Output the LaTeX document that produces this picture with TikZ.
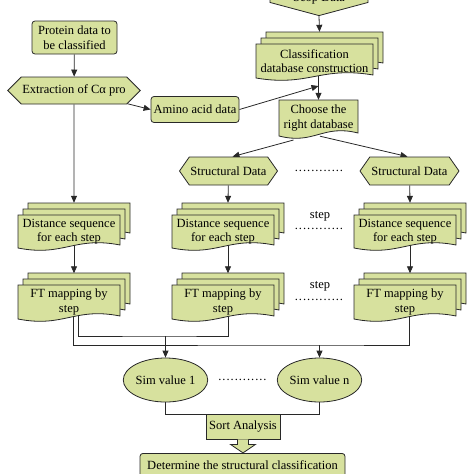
\documentclass[tikz,border=0pt]{standalone}
\usepackage{fontspec}
\setmainfont{Liberation Serif}
\usetikzlibrary{shapes.geometric,shapes.symbols,arrows.meta}
\definecolor{boxfill}{RGB}{215,225,158}
\definecolor{edge}{RGB}{40,40,40}
\pgfdeclarelayer{bg}
\pgfsetlayers{bg,main}
\tikzset{x=1pt,y=-1pt,
  every node/.style={font=\fontsize{12.5}{14.5}\selectfont,align=center},
  base/.style={draw=edge,fill=boxfill,line width=0.8pt},
  roundbox/.style={base,rectangle,rounded corners=3pt,inner sep=1pt},
  hexbox/.style={base,signal,signal to=west and east,inner sep=1pt},
  docnode/.style={inner sep=0pt,minimum width=102pt,minimum height=33pt},
  plain/.style={inner sep=0pt},
  link/.style={draw=edge,line width=0.8pt},
  flow/.style={link,-{Triangle[length=7pt,width=6pt]}}}
% one page with a wavy bottom: x, y, width, height
\newcommand{\docpage}[4]{%
  \filldraw[base] (#1,#2) -- ++(#3,0) -- ++(0,#4-3)
    .. controls +(-0.45*#3,-9) and +(0.45*#3,9) .. (#1,#2+#4) -- cycle;}
% three pages stacked
\newcommand{\docstack}[4]{%
  \foreach \k in {2,1,0} {\docpage{#1+5*\k}{#2-6*\k}{#3}{#4}}}
\newcommand{\dotrow}{\foreach \i in {1,...,12}{\makebox[4.1pt]{.}}}

\begin{document}
\begin{tikzpicture}
\useasboundingbox (0,0) rectangle (474,474);
% left column
\node[roundbox,minimum width=85pt,minimum height=33pt] (prot) at (74.5,37.5) {Protein data to\\be classified};
\node[hexbox,signal pointer angle=90,minimum width=126pt,minimum height=27pt] (extr) at (74,90.5) {Extraction of Cα pro};
\node[roundbox,minimum width=88pt,minimum height=26pt] (amino) at (195,109.5) {Amino acid data};
% database side
\node[base,signal,signal to=south,signal pointer angle=150,minimum width=98pt,minimum height=24pt,anchor=south] (scop) at (319,16) {\smash{\raisebox{-7pt}{Scop Data}}};
\docstack{256}{44}{117}{34}
\node[docnode,minimum width=117pt,minimum height=34pt] (clsdb) at (314.5,61) {Classification\\database construction};
\docpage{279}{100}{79}{36}
\node[docnode,minimum width=79pt,minimum height=36pt] (choose) at (318.5,118) {Choose the\\right database};
\node[hexbox,signal pointer angle=110,minimum width=98pt,minimum height=28pt] (sd1) at (228.5,171) {Structural Data};
\node[hexbox,signal pointer angle=110,minimum width=99pt,minimum height=28pt] (sd2) at (409.5,171) {Structural Data};
\node[plain] (dots1) at (319,171) {\dotrow};
% distance sequences
\docstack{18}{215}{102}{33}
\node[docnode] (dist1) at (69,231.5) {Distance sequence\\for each step};
\docstack{172}{215}{102}{33}
\node[docnode] (dist2) at (223,231.5) {Distance sequence\\for each step};
\docstack{354}{215}{102}{33}
\node[docnode] (dist3) at (405,231.5) {Distance sequence\\for each step};
\node[plain] (step1) at (320,216) {step};
\node[plain] (dots2) at (319,229) {\dotrow};
% FT mapping
\docstack{18}{285}{102}{34}
\node[docnode] (ft1) at (69,302) {FT mapping by\\step};
\docstack{172}{285}{102}{34}
\node[docnode] (ft2) at (223,302) {FT mapping by\\step};
\docstack{354}{285}{102}{34}
\node[docnode] (ft3) at (405,302) {FT mapping by\\step};
\node[plain] (step2) at (320,286.5) {step};
\node[plain] (dots3) at (319,300) {\dotrow};
% similarity and result
\node[base,ellipse,minimum width=77pt,minimum height=44pt,inner sep=0pt] (sim1) at (165.5,380) {Sim value 1};
\node[base,ellipse,minimum width=79pt,minimum height=44pt,inner sep=0pt] (simn) at (319.5,380) {Sim value n};
\node[plain] (dots4) at (242.5,380) {\dotrow};
\node[base,rectangle,minimum width=74pt,minimum height=25pt,inner sep=1pt] (sort) at (243,426.5) {Sort Analysis};
\node[roundbox,minimum width=205pt,minimum height=24pt,anchor=north] (det) at (242.5,453) {Determine the structural classification};
\filldraw[base] (sort.south) ++(-5.5,0) -- ++(0,5) -- ++(-7,0) -- ++(12.5,8.5) -- ++(12.5,-8.5) -- ++(-7,0) -- ++(0,-5);
\coordinate (join) at (318.5,86);
\coordinate (bus1) at (165.5,336);
\coordinate (bus2) at (319.5,345);
\begin{pgfonlayer}{bg}
\draw[flow] (prot) -- (extr);
\draw[flow] (extr) -- (amino.west);
\draw[flow] (scop.south) -- ([xshift=5pt,yshift=12pt]clsdb.north);
\draw[flow] ([xshift=4pt]clsdb.center) -- (choose.north);
\draw[flow] (amino.east) -- (join);
\draw[flow] ([xshift=-25pt,yshift=-22pt]choose.center) -- ([xshift=4pt]sd1.north);
\draw[flow] ([xshift=1.5pt]choose.south) -- ([xshift=-2pt]sd2.north);
\draw[flow] (extr) -- ([xshift=5pt,yshift=12pt]dist1.north);
\draw[flow] (sd1) -- ([xshift=5pt,yshift=12pt]dist2.north);
\draw[flow] (sd2) -- ([xshift=5pt,yshift=12pt]dist3.north);
\foreach \i in {1,2,3}
  \draw[flow] ([xshift=5pt]dist\i.center) -- ([xshift=5pt,yshift=12pt]ft\i.north);
\draw[link] ([xshift=9pt]ft1.center) |- (bus1) -| ([xshift=5pt]ft2.center);
\draw[link] ([xshift=4pt]ft1.center) |- (bus2) -| ([xshift=4pt]ft3.center);
\draw[flow] (bus1) -- (sim1);
\draw[flow] (bus2) -- (simn);
\draw[link] (sim1) -- ++(0,34) -| (simn);
\end{pgfonlayer}
\end{tikzpicture}
\end{document}
